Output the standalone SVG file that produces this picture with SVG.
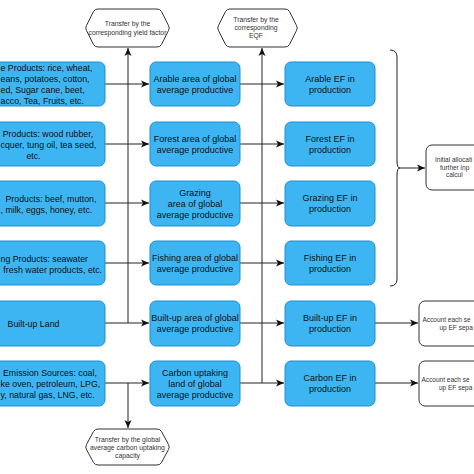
<svg xmlns="http://www.w3.org/2000/svg" width="474" height="474" viewBox="0 0 474 474">
<defs>
<style>
.b{fill:#3db5f2;stroke:#1f8fd1;stroke-width:1}
.w{fill:#ffffff;stroke:#333333;stroke-width:1}
.t{font-family:"Liberation Sans",Arial,sans-serif;font-size:9px;fill:#111111}
.tl{font-family:"Liberation Sans",Arial,sans-serif;font-size:8.8px;fill:#111111}
.s{font-family:"Liberation Sans",Arial,sans-serif;font-size:6.8px;fill:#333333}
.sw{font-family:"Liberation Sans",Arial,sans-serif;font-size:6.5px;fill:#333333}
.c{text-anchor:middle}
.e{text-anchor:end}
.l{fill:none;stroke:#222222;stroke-width:1}
</style>
<marker id="a" markerUnits="userSpaceOnUse" markerWidth="9" markerHeight="8" refX="8" refY="4" orient="auto">
<path d="M0,0.5 L8,4 L0,7.5 L2,4 Z" fill="#111111"/>
</marker>
</defs>
<rect width="474" height="474" fill="#ffffff"/>

<g id="connectors">
<path class="l" d="M128,323 L128,48" marker-end="url(#a)"/>
<path class="l" d="M128,383 L128,428" marker-end="url(#a)"/>
<path class="l" d="M262,383 L262,48" marker-end="url(#a)"/>
<path class="l" d="M105,84 L149,84" marker-end="url(#a)"/>
<path class="l" d="M105,144 L149,144" marker-end="url(#a)"/>
<path class="l" d="M105,203 L149,203" marker-end="url(#a)"/>
<path class="l" d="M105,263 L149,263" marker-end="url(#a)"/>
<path class="l" d="M105,323 L149,323" marker-end="url(#a)"/>
<path class="l" d="M105,383 L149,383" marker-end="url(#a)"/>
<path class="l" d="M240,84 L284,84" marker-end="url(#a)"/>
<path class="l" d="M240,144 L284,144" marker-end="url(#a)"/>
<path class="l" d="M240,203 L284,203" marker-end="url(#a)"/>
<path class="l" d="M240,263 L284,263" marker-end="url(#a)"/>
<path class="l" d="M240,323 L284,323" marker-end="url(#a)"/>
<path class="l" d="M240,383 L284,383" marker-end="url(#a)"/>
<path class="l" d="M375,323 L418,323" marker-end="url(#a)"/>
<path class="l" d="M375,383 L418,383" marker-end="url(#a)"/>
<path class="l" d="M390,50 Q397,50 397,57 L397,161 Q397,168 400,168 Q397,168 397,175 L397,279 Q397,286 390,286"/>
<path class="l" d="M400,168 L425,168" marker-end="url(#a)"/>
</g>

<g id="hex-yield">
<path class="w" d="M98,9 L157,9 Q160,9 161.5,11.5 L168.5,25.5 Q170,28 168.5,30.5 L161.5,44.5 Q160,47 157,47 L98,47 Q95,47 93.5,44.5 L86.5,30.5 Q85,28 86.5,25.5 L93.5,11.5 Q95,9 98,9 Z"/>
<text class="s c" x="127.5" y="26.4">Transfer by the</text>
<text class="s c" x="127.5" y="34.6">corresponding yield factor</text>
</g>
<g id="hex-eqf">
<path class="w" d="M230,9 L285,9 Q288,9 289.5,11.5 L296.5,25.5 Q298,28 296.5,30.5 L289.5,44.5 Q288,47 285,47 L230,47 Q227,47 225.5,44.5 L218.5,30.5 Q217,28 218.5,25.5 L225.5,11.5 Q227,9 230,9 Z"/>
<text class="s c" x="256" y="21.8">Transfer by the</text>
<text class="s c" x="256" y="30.1">corresponding</text>
<text class="s c" x="256" y="38.4">EQF</text>
</g>
<g id="hex-carbon">
<path class="w" d="M98,429 L157,429 Q160,429 161.5,431.5 L168.5,444.5 Q170,447 168.5,449.5 L161.5,462.5 Q160,465 157,465 L98,465 Q95,465 93.5,462.5 L86.5,449.5 Q85,447 86.5,444.5 L93.5,431.5 Q95,429 98,429 Z"/>
<text class="s c" x="127.5" y="441.5">Transfer by the global</text>
<text class="s c" x="127.5" y="449.5">average carbon uptaking</text>
<text class="s c" x="127.5" y="457.5">capacity</text>
</g>

<g id="src-arable">
<rect class="b" x="-40" y="62" width="145" height="44" rx="6"/>
<text class="tl" x="0.5" y="71">e Products: rice, wheat,</text>
<text class="tl" x="0.5" y="82">eans, potatoes, cotton,</text>
<text class="tl" x="0.5" y="93">ed, Sugar cane, beet,</text>
<text class="tl" x="0.5" y="104">acco, Tea, Fruits, etc.</text>
</g>
<g id="src-forest">
<rect class="b" x="-40" y="122" width="145" height="44" rx="6"/>
<text class="tl" x="2.7" y="136.5">Products: wood rubber,</text>
<text class="tl" x="0.5" y="147.5">cquer, tung oil, tea seed,</text>
<text class="tl c" x="33.5" y="158.5">etc.</text>
</g>
<g id="src-grazing">
<rect class="b" x="-40" y="181" width="145" height="45" rx="6"/>
<text class="tl" x="5.5" y="201.5">Products: beef, mutton,</text>
<text class="tl" x="0.5" y="212.5">, milk, eggs, honey, etc.</text>
</g>
<g id="src-fishing">
<rect class="b" x="-40" y="241" width="145" height="44" rx="6"/>
<text class="tl" x="0.5" y="261.5">ng Products: seawater</text>
<text class="tl" x="3.3" y="272.5">fresh water products, etc.</text>
</g>
<g id="src-builtup">
<rect class="b" x="-40" y="301" width="145" height="45" rx="6"/>
<text class="tl c" x="33.5" y="326.5">Built-up Land</text>
</g>
<g id="src-carbon">
<rect class="b" x="-40" y="361" width="145" height="45" rx="6"/>
<text class="tl" x="3" y="376">Emission Sources: coal,</text>
<text class="tl" x="0.5" y="387">ke oven, petroleum, LPG,</text>
<text class="tl" x="0.5" y="398">y, natural gas, LNG, etc.</text>
</g>

<g id="area-arable">
<rect class="b" x="150" y="62" width="90" height="44" rx="6"/>
<text class="t c" x="195" y="82">Arable area of global</text>
<text class="t c" x="195" y="93">average productive</text>
</g>
<g id="area-forest">
<rect class="b" x="150" y="122" width="90" height="44" rx="6"/>
<text class="t c" x="195" y="142">Forest area of global</text>
<text class="t c" x="195" y="153">average productive</text>
</g>
<g id="area-grazing">
<rect class="b" x="150" y="181" width="90" height="45" rx="6"/>
<text class="t c" x="195" y="196">Grazing</text>
<text class="t c" x="195" y="207">area of global</text>
<text class="t c" x="195" y="218">average productive</text>
</g>
<g id="area-fishing">
<rect class="b" x="150" y="241" width="90" height="44" rx="6"/>
<text class="t c" x="195" y="261">Fishing area of global</text>
<text class="t c" x="195" y="272">average productive</text>
</g>
<g id="area-builtup">
<rect class="b" x="150" y="301" width="90" height="45" rx="6"/>
<text class="t c" x="195" y="321">Built-up area of global</text>
<text class="t c" x="195" y="332">average productive</text>
</g>
<g id="area-carbon">
<rect class="b" x="150" y="361" width="90" height="45" rx="6"/>
<text class="t c" x="195" y="376">Carbon uptaking</text>
<text class="t c" x="195" y="387">land of global</text>
<text class="t c" x="195" y="398">average productive</text>
</g>

<g id="ef-arable">
<rect class="b" x="285" y="62" width="90" height="44" rx="6"/>
<text class="t c" x="330" y="82">Arable EF in</text>
<text class="t c" x="330" y="93">production</text>
</g>
<g id="ef-forest">
<rect class="b" x="285" y="122" width="90" height="44" rx="6"/>
<text class="t c" x="330" y="142">Forest EF in</text>
<text class="t c" x="330" y="153">production</text>
</g>
<g id="ef-grazing">
<rect class="b" x="285" y="181" width="90" height="45" rx="6"/>
<text class="t c" x="330" y="201">Grazing EF in</text>
<text class="t c" x="330" y="212">production</text>
</g>
<g id="ef-fishing">
<rect class="b" x="285" y="241" width="90" height="44" rx="6"/>
<text class="t c" x="330" y="261">Fishing EF in</text>
<text class="t c" x="330" y="272">production</text>
</g>
<g id="ef-builtup">
<rect class="b" x="285" y="301" width="90" height="45" rx="6"/>
<text class="t c" x="330" y="321">Built-up EF in</text>
<text class="t c" x="330" y="332">production</text>
</g>
<g id="ef-carbon">
<rect class="b" x="285" y="361" width="90" height="45" rx="6"/>
<text class="t c" x="330" y="381">Carbon EF in</text>
<text class="t c" x="330" y="392">production</text>
</g>

<g id="initial-allocation">
<rect class="w" x="426" y="145" width="70" height="45" rx="6"/>
<text class="sw" x="435" y="161.5">Initial allocati</text>
<text class="sw" x="440" y="169.5">further inp</text>
<text class="sw" x="446" y="177">calcul</text>
</g>
<g id="account-builtup">
<rect class="w" x="419" y="301" width="70" height="45" rx="6"/>
<text class="sw" x="422.5" y="321.5">Account each se</text>
<text class="sw" x="439.5" y="329.5">up EF sepa</text>
</g>
<g id="account-carbon">
<rect class="w" x="419" y="361" width="70" height="45" rx="6"/>
<text class="sw" x="421.5" y="381.5">Account each se</text>
<text class="sw" x="439" y="389.5">up EF sepa</text>
</g>
</svg>
